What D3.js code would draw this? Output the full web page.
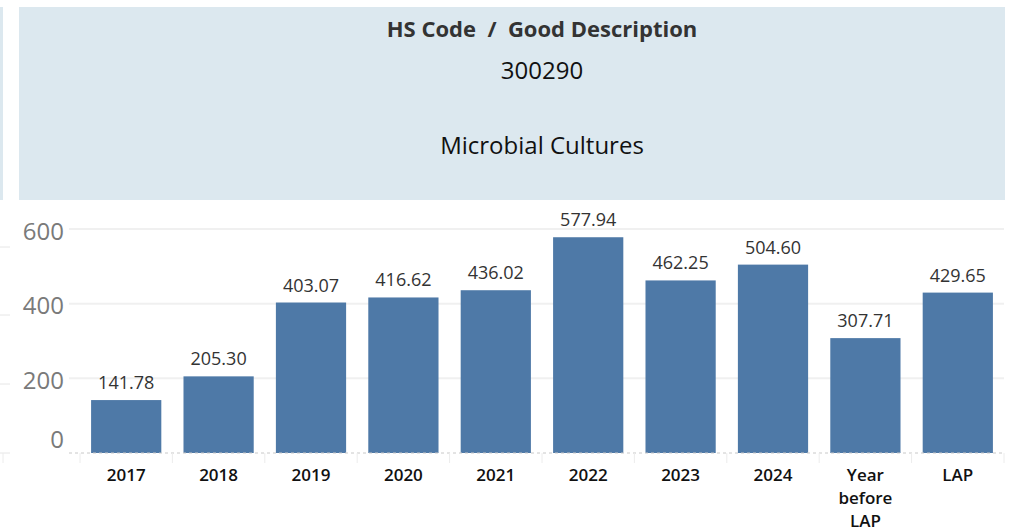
<!DOCTYPE html>
<html>
<head>
<meta charset="utf-8">
<script src="https://cdn.jsdelivr.net/npm/d3@7"></script>
<style>
  body { margin: 0; background: #fff; }
  svg { display: block; }
</style>
</head>
<body>
<svg id="chart" width="1015" height="531"></svg>
<script>
// data
const categories = ["2017", "2018", "2019", "2020", "2021", "2022", "2023", "2024", "Year before LAP", "LAP"];
const values = [141.78, 205.30, 403.07, 416.62, 436.02, 577.94, 462.25, 504.60, 307.71, 429.65];
const yTicks = [0, 200, 400, 600];
const headerLines = ["HS Code  /  Good Description", "300290", "Microbial Cultures"];

const svg = d3.select("#chart");

// header panel
svg.append("rect").attr("x", 0).attr("y", 7).attr("width", 3).attr("height", 193).attr("fill", "#dce8ef");
svg.append("rect").attr("x", 19).attr("y", 7).attr("width", 986).attr("height", 193).attr("fill", "#dce8ef");

const headX = 542;
svg.append("text").attr("x", headX).attr("y", 37)
  .attr("text-anchor", "middle")
  .attr("xml:space", "preserve")
  .style("white-space", "pre")
  .style("font-family", "'Open Sans', sans-serif").style("font-weight", "bold")
  .style("font-size", "22px").attr("fill", "#333")
  .text(headerLines[0]);
svg.append("text").attr("x", headX).attr("y", 79)
  .attr("text-anchor", "middle")
  .style("font-family", "'Open Sans', sans-serif")
  .style("font-size", "24px").attr("fill", "#111")
  .text(headerLines[1]);
svg.append("text").attr("x", headX).attr("y", 154)
  .attr("text-anchor", "middle")
  .style("font-family", "'Open Sans', sans-serif")
  .style("font-size", "24px").attr("fill", "#111")
  .text(headerLines[2]);

// scales
const x = d3.scaleBand().domain(categories).range([80, 1004]).paddingInner(0.24).paddingOuter(0.12);
const y = d3.scaleLinear().domain([0, 600]).range([453, 229]);

// gridlines
svg.append("g")
  .selectAll("line")
  .data(yTicks.filter(d => d > 0))
  .enter()
  .append("line")
  .attr("x1", 69).attr("x2", 1004)
  .attr("y1", d => y(d)).attr("y2", d => y(d))
  .attr("stroke", "#f0f0f0").attr("stroke-width", 2);

// little marks of the left pane
svg.append("g")
  .selectAll("line")
  .data([247, 315, 384, 453])
  .enter()
  .append("line")
  .attr("x1", 0).attr("x2", 10)
  .attr("y1", d => d).attr("y2", d => d)
  .attr("stroke", "#e6e6e6").attr("stroke-width", 1);

// y axis labels
const yAxis = svg.append("g")
  .attr("transform", "translate(64,0)")
  .call(d3.axisLeft(y).tickValues(yTicks).tickSize(0).tickPadding(0));
yAxis.select(".domain").remove();
yAxis.selectAll("text")
  .style("font-family", "'Open Sans', sans-serif")
  .style("font-size", "24px").style("font-weight", "normal")
  .attr("fill", "#7a7a7a")
  .attr("dy", d => d === 0 ? "-0.25em" : "0.42em");

// bars
svg.append("g")
  .selectAll("rect")
  .data(categories)
  .enter()
  .append("rect")
  .attr("x", d => x(d))
  .attr("width", x.bandwidth())
  .attr("y", (d, i) => y(values[i]))
  .attr("height", (d, i) => y(0) - y(values[i]))
  .attr("fill", "#4e79a7");

// value labels
svg.append("g")
  .selectAll("text")
  .data(categories)
  .enter()
  .append("text")
  .attr("x", d => x(d) + x.bandwidth() / 2)
  .attr("y", (d, i) => y(values[i]) - 11)
  .attr("text-anchor", "middle")
  .style("font-family", "'Open Sans', sans-serif")
  .style("font-size", "18px")
  .attr("fill", "#333")
  .text((d, i) => values[i].toFixed(2));

// baseline + column separators
svg.append("line")
  .attr("x1", 69).attr("x2", 1004).attr("y1", 453).attr("y2", 453)
  .attr("stroke", "#c8c8c8").attr("stroke-dasharray", "3,3");
svg.append("g")
  .selectAll("line")
  .data(categories.map(d => x(d) + x.bandwidth() / 2 - x.step() / 2).concat([x(categories[categories.length - 1]) + x.bandwidth() / 2 + x.step() / 2, 3]))
  .enter()
  .append("line")
  .attr("x1", d => d).attr("x2", d => d)
  .attr("y1", 453).attr("y2", 463)
  .attr("stroke", "#ececec").attr("stroke-width", 1);

// x labels
const xLab = svg.append("g")
  .selectAll("text")
  .data(categories)
  .enter()
  .append("text")
  .attr("x", d => x(d) + x.bandwidth() / 2)
  .attr("y", 481)
  .attr("text-anchor", "middle")
  .style("font-family", "'Open Sans', sans-serif")
  .style("font-size", "17px").style("font-weight", "600")
  .attr("fill", "#111");
xLab.each(function(d) {
  const words = d === "Year before LAP" ? ["Year", "before", "LAP"] : [d];
  d3.select(this).selectAll("tspan")
    .data(words)
    .enter()
    .append("tspan")
    .attr("x", x(d) + x.bandwidth() / 2)
    .attr("dy", (w, i) => i === 0 ? 0 : 23)
    .text(w => w);
});
</script>
</body>
</html>
